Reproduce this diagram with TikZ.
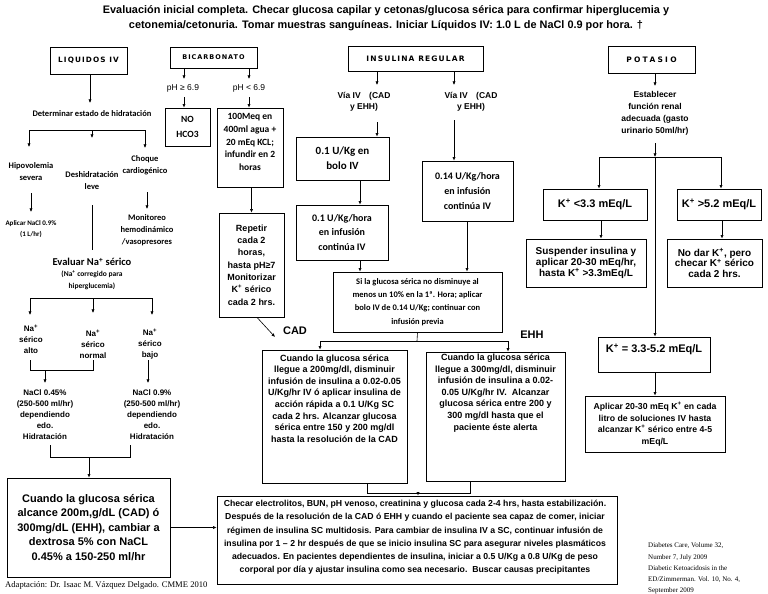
\documentclass[tikz,border=0pt]{standalone}
\usepackage{fontspec}
\setmainfont{Liberation Sans}
\newfontfamily\calf{Carlito}
\newfontfamily\hdrf{DejaVu Sans}[LetterSpace=15]
\newfontfamily\hdrw{DejaVu Sans}[LetterSpace=30]
\newfontfamily\serf{Liberation Serif}
\usetikzlibrary{shadows,arrows.meta}
\newcommand\myCB[2]{\calf\bfseries\fontsize{#1}{#2}\selectfont}
\newcommand\myAB[2]{\normalfont\bfseries\fontsize{#1}{#2}\selectfont}
\newcommand\myAR[2]{\normalfont\fontsize{#1}{#2}\selectfont}
\newcommand\myHD[1]{\hdrf\bfseries\fontsize{#1}{#1}\selectfont}
\tikzset{
  box/.style={draw, line width=0.8pt, fill=white, inner sep=0pt, align=center},
  sbox/.style={box, drop shadow={shadow xshift=1.3pt, shadow yshift=-1.3pt, opacity=1, fill=black!65}},
  t/.style={align=center, inner sep=0pt},
  arr/.style={-{Latex[length=3.6pt,width=3.2pt]}, line width=0.6pt},
  ln/.style={line width=0.6pt}
}
\begin{document}
\begin{tikzpicture}[x=1pt,y=-1pt]
\fill[white] (0,0) rectangle (768,594);
\useasboundingbox (0,0) rectangle (768,594);

% title
\node[t, font=\myAB{10.9}{15.5}] (tit) at (386,18) {Evaluación inicial completa. Checar glucosa capilar y cetonas/glucosa sérica para confirmar hiperglucemia y\\cetonemia/cetonuria. Tomar muestras sanguíneas. Iniciar Líquidos IV: 1.0 L de NaCl 0.9 por hora. †};

% ---------- LIQUIDOS IV ----------
\node[sbox, minimum width=77pt, minimum height=27pt] (liq) at (88.5,60.5) {\myHD{7.3}LIQUIDOS IV};
\node[t, font=\myCB{8.5}{12}] (det) at (92,114) {Determinar estado de hidratación};
\coordinate (liqa) at (90,103);
\draw[arr] (liq.south -| liqa) -- (liqa);
\coordinate (b1l) at (29,130); \coordinate (b1m) at (92,130); \coordinate (b1r) at (145,130);
\coordinate (b1la) at (29,147); \coordinate (b1ma) at (92,138); \coordinate (b1ra) at (145,148);
\draw[ln] (b1l) -- (b1r);
\draw[arr] (b1l) -- (b1la); \draw[arr] (b1m) -- (b1ma); \draw[arr] (b1r) -- (b1ra);
\node[t, font=\myCB{8.5}{12}] (hipo) at (31,172) {Hipovolemia\\severa};
\node[t, font=\myCB{8.5}{12}] (desh) at (92,181) {Deshidratación\\leve};
\node[t, font=\myCB{8.5}{12}] (choq) at (145,165) {Choque\\cardiogénico};
\coordinate (h1) at (31,193); \coordinate (h2) at (31,212);
\draw[arr] (h1) -- (h2);
\node[t, font=\myCB{7}{10.5}] (aplna) at (31,229) {Aplicar NaCl 0.9\%\\(1 L/hr)};
\coordinate (d1) at (92,205); \coordinate (d2) at (92,250);
\draw[ln] (d1) -- (d2);
\coordinate (c1) at (147,192); \coordinate (c2) at (147,209);
\draw[arr] (c1) -- (c2);
\node[t, font=\myCB{8.5}{12}] (mon) at (147,230) {Monitoreo\\hemodinámico\\/vasopresores};
\node[t, font=\myCB{10.5}{12}] (eval) at (92,262) {Evaluar Na\textsuperscript{+} sérico};
\node[t, font=\myCB{7.5}{12}] (evs) at (92,280) {(Na\textsuperscript{+} corregido para\\hiperglucemia)};
\coordinate (b2l) at (30,298); \coordinate (b2m) at (93,298); \coordinate (b2r) at (152,298);
\coordinate (b2la) at (30,315); \coordinate (b2ma) at (93,313); \coordinate (b2ra) at (152,315);
\draw[ln] (b2l) -- (b2r);
\draw[arr] (b2l) -- (b2la); \draw[arr] (b2m) -- (b2ma); \draw[arr] (b2r) -- (b2ra);
\node[t, font=\myAB{8}{11}] (na1) at (31,339) {Na\textsuperscript{+}\\sérico\\alto};
\node[t, font=\myAB{8}{11}] (na2) at (93,344) {Na\textsuperscript{+}\\sérico\\normal};
\node[t, font=\myAB{8}{11}] (na3) at (150,344) {Na\textsuperscript{+}\\sérico\\bajo};
\coordinate (s1) at (30,360); \coordinate (s2) at (93,360);
\coordinate (s3) at (45,370); \coordinate (s4) at (45,383);
\draw[ln] (s1) -- (s1 |- s3) -- (s2 |- s3) -- (s2);
\draw[arr] (s3) -- (s4);
\coordinate (s5) at (148,360); \coordinate (s6) at (148,383);
\draw[arr] (s5) -- (s6);
\node[t, font=\myAB{8}{11}] (nacl1) at (45,415) {NaCl 0.45\%\\(250-500 ml/hr)\\dependiendo\\edo.\\Hidratación};
\node[t, font=\myAB{8}{11}] (nacl2) at (152,415) {NaCl 0.9\%\\(250-500 ml/hr)\\dependiendo\\edo.\\Hidratación};
\coordinate (q1) at (50,445); \coordinate (q2) at (130,445); \coordinate (q3) at (89,457);
\draw[ln] (q1) -- (q1 |- q3) -- (q2 |- q3) -- (q2);
\node[sbox, minimum width=163pt, minimum height=99pt, font=\myAB{11}{14.5}] (cua) at (88.5,527.5) {Cuando la glucosa sérica\\alcance 200m,g/dL (CAD) ó\\300mg/dL (EHH), cambiar a\\dextrosa 5\% con NaCL\\0.45\% a 150-250 ml/hr};
\draw[arr] (q3) -- (q3 |- cua.north);

% ---------- BICARBONATO ----------
\node[box, minimum width=87pt, minimum height=21pt] (bic) at (213.5,57.5) {\myHD{6.5}BICARBONATO};
\coordinate (p1) at (184,79); \coordinate (p2) at (249,79);
\draw[arr] (bic.south -| p1) -- (p1);
\draw[arr] (bic.south -| p2) -- (p2);
\node[t, font=\myAR{8.5}{10}] (ph1) at (183,88) {pH ≥ 6.9};
\node[t, font=\myAR{8.5}{10}] (ph2) at (249,88) {pH < 6.9};
\node[box, minimum width=45pt, minimum height=38pt, font=\myCB{9.5}{15}] (nohco) at (187.5,127) {NO\\HCO3};
\node[box, minimum width=66pt, minimum height=79pt] (meq) at (250,147.5) {};
\node[t, font=\myCB{9.5}{12.6}] (meqt) at (250,142) {100Meq en\\400ml agua +\\20 mEq KCL;\\infundir en 2\\horas};
\coordinate (p3) at (184,97); \coordinate (p4) at (249,97);
\draw[arr] (p3) -- (p3 |- nohco.north);
\draw[arr] (p4) -- (p4 |- meq.north);
\node[box, minimum width=65pt, minimum height=104pt, font=\myAB{9}{12.3}] (rep) at (251.5,265) {Repetir\\cada 2\\horas,\\hasta pH≥7\\Monitorizar\\K\textsuperscript{+} sérico\\cada 2 hrs.};
\draw[arr] (meq.south -| rep.north) -- (rep.north);
\coordinate (cadtip) at (275,337);
\draw[arr] (rep.south -| 257,0) -- (cadtip);
\node[t, font=\myAB{11}{13}] (cadl) at (295,331) {CAD};

% ---------- INSULINA ----------
\node[box, minimum width=135pt, minimum height=25pt] (ins) at (415.5,58.5) {\myHD{7.5}INSULINA REGULAR};
\coordinate (i1) at (377,85); \coordinate (i2) at (454,85);
\draw[arr] (ins.south -| i1) -- (i1);
\draw[arr] (ins.south -| i2) -- (i2);
\node[t, font=\myAB{8.5}{11}] (via1) at (364,102) {Vía IV\quad(CAD\\y EHH)};
\node[t, font=\myAB{8.5}{11}] (via2) at (471,102) {Vía IV\quad(CAD\\y EHH)};
\node[box, minimum width=93pt, minimum height=43pt, font=\myCB{11}{15}] (bolo) at (342.5,158.5) {0.1 U/Kg en\\bolo IV};
\node[box, minimum width=92pt, minimum height=55pt, font=\myCB{10}{14.5}] (hora) at (342,232.5) {0.1 U/Kg/hora\\en infusión\\continúa IV};
\node[box, minimum width=91pt, minimum height=60pt, font=\myCB{10}{15}] (i14) at (467.5,191) {0.14 U/Kg/hora\\en infusión\\continúa IV};
\node[box, minimum width=169pt, minimum height=60pt, font=\myCB{8.5}{13.3}] (sil) at (417.5,302) {Si la glucosa sérica no disminuye al\\menos un 10\% en la 1ª. Hora; aplicar\\bolo IV de 0.14 U/Kg; continuar con\\infusión previa};
\coordinate (v1) at (377,122); \coordinate (v2) at (454,120);
\draw[arr] (v1) -- (v1 |- bolo.north);
\draw[arr] (v2) -- (v2 |- i14.north);
\coordinate (x360) at (360,0); \coordinate (x467) at (467,0);
\draw[arr] (bolo.south -| x360) -- (hora.north -| x360);
\draw[arr] (hora.south -| x360) -- (sil.north -| x360);
\draw[arr] (i14.south -| x467) -- (sil.north -| x467);
\coordinate (e0) at (417,341); \coordinate (el) at (320,341); \coordinate (er) at (508,341);
\node[sbox, minimum width=145pt, minimum height=133pt] (cad) at (334.5,416.5) {};
\node[t, font=\myAB{9}{11.6}] (cadt) at (334.5,398.5) {Cuando la glucosa sérica\\llegue a 200mg/dl, disminuir\\infusión de insulina a 0.02-0.05\\U/Kg/hr IV ó aplicar insulina de\\acción rápida a 0.1 U/Kg SC\\cada 2 hrs. Alcanzar glucosa\\sérica entre 150 y 200 mg/dl\\hasta la resolución de la CAD};
\node[sbox, minimum width=139pt, minimum height=129pt] (ehh) at (495.5,416.5) {};
\node[t, font=\myAB{9}{11.6}] (ehht) at (495.5,393) {Cuando la glucosa sérica\\llegue a 300mg/dl, disminuir\\infusión de insulina a 0.02-\\0.05 U/Kg/hr IV.\ \ Alcanzar\\glucosa sérica entre 200 y\\300 mg/dl hasta que el\\paciente éste alerta};
\draw[ln] (sil.south) -- (e0);
\draw[ln] (el) -- (er);
\draw[arr] (el) -- (el |- cad.north);
\draw[arr] (er) -- (er |- ehh.north);
\node[t, font=\myAB{11}{13}] (ehhl) at (532,335) {EHH};
\coordinate (f1) at (367,493); \coordinate (f2) at (470,493); \coordinate (f3) at (418,493);
\node[sbox, minimum width=400pt, minimum height=88pt] (chk) at (417,540) {};
\node[t, font=\myAB{8.7}{13.2}] (chkt) at (415,537.5) {Checar electrolitos, BUN, pH venoso, creatinina y glucosa cada 2-4 hrs, hasta estabilización.\\Después de la resolución de la CAD ó EHH y cuando el paciente sea capaz de comer, iniciar\\régimen de insulina SC multidosis. Para cambiar de insulina IV a SC, continuar infusión de\\insulina por 1 – 2 hr después de que se inicio insulina SC para asegurar niveles plasmáticos\\adecuados. En pacientes dependientes de insulina, iniciar a 0.5 U/Kg a 0.8 U/Kg de peso\\corporal por día y ajustar insulina como sea necesario.\ \ Buscar causas precipitantes};
\draw[ln] (cad.south -| f1) -- (f1) -- (f2) -- (ehh.south -| f2);
\draw[arr] (f3) -- (f3 |- chk.north);
\draw[arr] (cua.east) -- (cua.east -| chk.west);

% ---------- POTASIO ----------
\node[box, minimum width=87pt, minimum height=27pt] (pot) at (651.5,59.5) {\hdrw\bfseries\fontsize{7.5}{7.5}\selectfont POTASIO};
\coordinate (k0) at (655,86);
\draw[arr] (pot.south -| k0) -- (k0);
\node[t, font=\myAB{8.5}{12}] (est) at (655,113) {Establecer\\función renal\\adecuada (gasto\\urinario 50ml/hr)};
\coordinate (k1a) at (655,143); \coordinate (km) at (655,157);
\coordinate (kl) at (599,157); \coordinate (kr) at (721,157);
\draw[arr] (k1a) -- (km);
\draw[ln] (kl) -- (kr);
\node[sbox, minimum width=104pt, minimum height=31pt, font=\myAB{11}{13}] (klo) at (595,204.5) {K\textsuperscript{+} <3.3 mEq/L};
\node[sbox, minimum width=84pt, minimum height=31pt, font=\myAB{11}{13}] (khi) at (719,204.5) {K\textsuperscript{+} >5.2 mEq/L};
\draw[arr] (kl) -- (kl |- klo.north);
\draw[arr] (kr) -- (kr |- khi.north);
\node[sbox, minimum width=120pt, minimum height=48pt, font=\myAB{10}{10.8}] (sus) at (586,263) {Suspender insulina y\\aplicar 20-30 mEq/hr,\\hasta K\textsuperscript{+} >3.3mEq/L};
\node[sbox, minimum width=95pt, minimum height=48pt, font=\myAB{10}{10.8}] (nod) at (714.5,263) {No dar K\textsuperscript{+}, pero\\checar K\textsuperscript{+} sérico\\cada 2 hrs.};
\coordinate (x601) at (601,0); \coordinate (x722) at (722,0);
\draw[arr] (klo.south -| x601) -- (sus.north -| x601);
\draw[arr] (khi.south -| x722) -- (nod.north -| x722);
\node[sbox, minimum width=112pt, minimum height=35pt] (kmid) at (654,354.5) {};
\node[t, font=\myAB{11}{13}] (kmidt) at (654,349) {K\textsuperscript{+} = 3.3-5.2 mEq/L};
\draw[arr] (km) -- (km |- kmid.north);
\node[sbox, minimum width=140pt, minimum height=56pt, font=\myAB{8.7}{11.5}] (aplk) at (655,424) {Aplicar 20-30 mEq K\textsuperscript{+} en cada\\litro de soluciones IV hasta\\alcanzar K\textsuperscript{+} sérico entre 4-5\\mEq/L};
\coordinate (x655) at (655,0);
\draw[arr] (kmid.south -| x655) -- (aplk.north -| x655);

% ---------- references ----------
\node[t, anchor=west, align=left, font=\serf\fontsize{7}{11.5}\selectfont] (ref1) at (648,552) {Diabetes Care, Volume 32,\\Number 7, July 2009};
\node[t, anchor=west, align=left, font=\serf\fontsize{7}{11}\selectfont] (ref2) at (648,580) {Diabetic Ketoacidosis in the\\ED/Zimmerman. Vol. 10, No. 4,\\September 2009};
\node[t, anchor=west, font=\serf\fontsize{8.6}{10}\selectfont] (adap) at (5,585) {Adaptación: Dr. Isaac M. Vázquez Delgado. CMME 2010};
\end{tikzpicture}
\end{document}
